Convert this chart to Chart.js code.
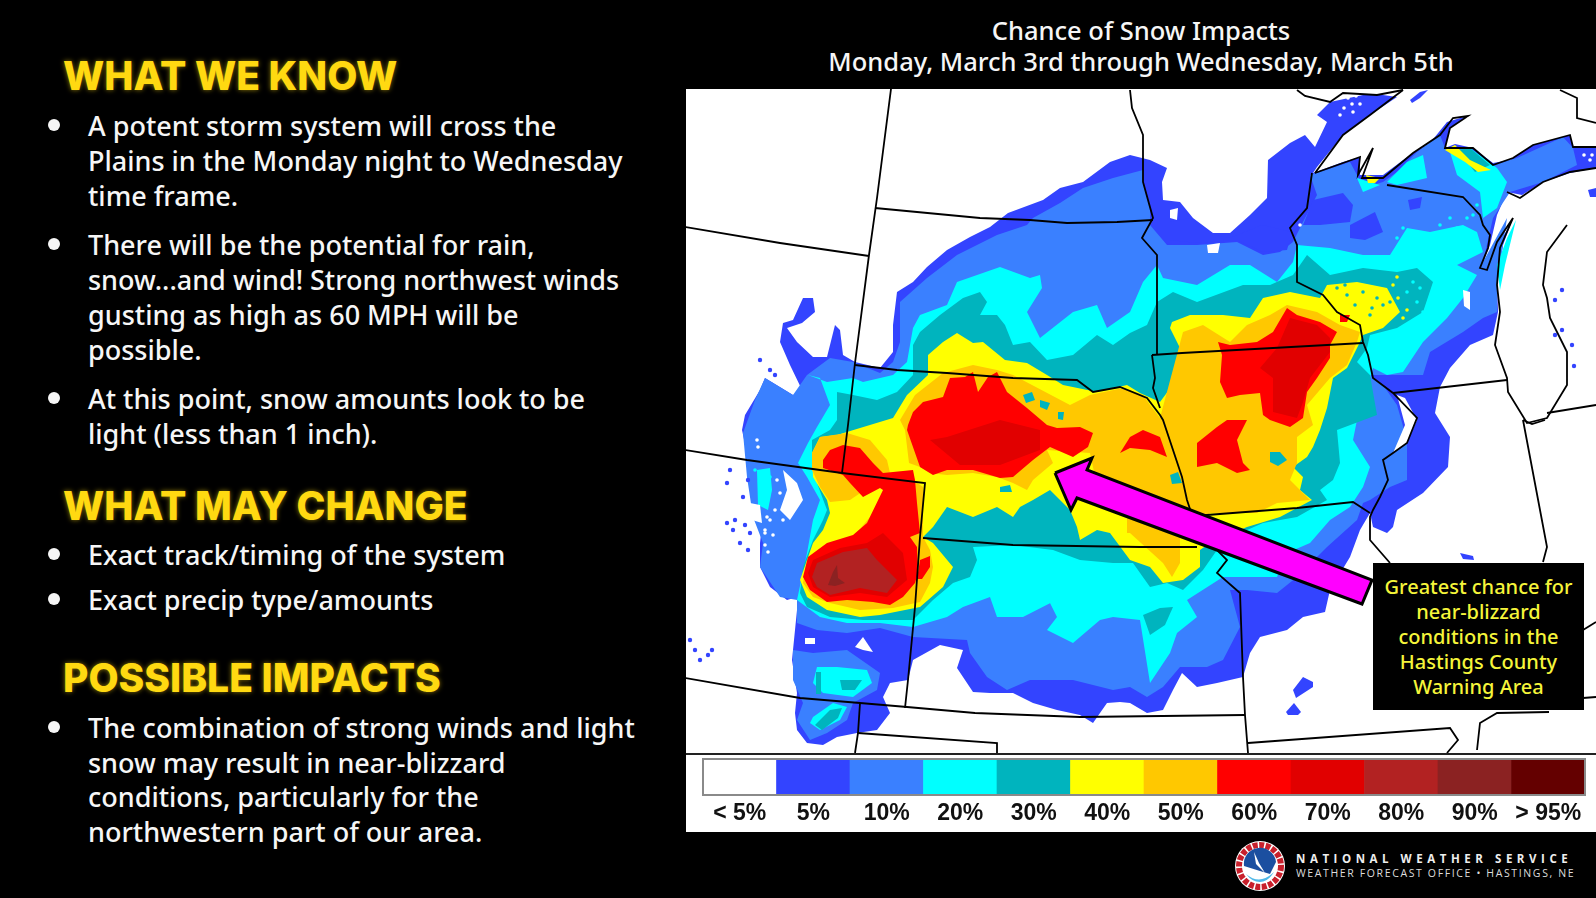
<!DOCTYPE html>
<html>
<head>
<meta charset="utf-8">
<title>Chance of Snow Impacts</title>
<script src="https://cdn.jsdelivr.net/npm/chart.js@4/dist/chart.umd.min.js"></script>
<style>
html, body { margin: 0; padding: 0; background: #000; width: 1596px; height: 898px; overflow: hidden; }
body { position: relative; font-family: "Noto Sans", Lato, sans-serif; color: #fff; }
.line { position: absolute; white-space: nowrap; font-size: 27px; line-height: 36px; color: #f6f6f6; font-weight: 500; }
.dot { position: absolute; left: 48px; width: 12px; height: 12px; border-radius: 50%; background: #f6f6f6; }
.head { position: absolute; white-space: nowrap; font-family: Inter, sans-serif; font-weight: 800; font-size: 39px; line-height: 44px; color: #ffd911; text-shadow: 0 0 5px rgba(255,217,17,.55); }
.title { position: absolute; left: 686px; width: 910px; text-align: center; font-size: 25.5px; line-height: 32px; font-weight: 500; color: #f6f6f6; white-space: nowrap; }
#panel { position: absolute; left: 686px; top: 89px; width: 910px; height: 743px; background: #fff; }
#map { position: absolute; left: 686px; top: 89px; filter: blur(0.5px); }
#scale { position: absolute; left: 702px; top: 758px; filter: blur(0.5px); }
#rule { position: absolute; left: 686px; top: 753px; width: 910px; height: 2px; background: #222; }
#callout { position: absolute; left: 1373px; top: 563px; width: 211px; height: 147px; background: #000; color: #f5f53a; text-align: center; font-size: 20px; line-height: 25px; font-weight: 500; padding-top: 11px; box-sizing: border-box; white-space: nowrap; }
#logo { position: absolute; left: 1234px; top: 840px; }
.nws1 { position: absolute; left: 1296px; top: 851px; font-family: "Open Sans", sans-serif; font-size: 11.5px; line-height: 16px; font-weight: 700; letter-spacing: 4.55px; color: #eee; white-space: nowrap; }
.nws2 { position: absolute; left: 1296px; top: 865px; font-family: "Open Sans", sans-serif; font-size: 10.5px; line-height: 16px; letter-spacing: 1.63px; color: #ddd; white-space: nowrap; }
</style>
</head>
<body>
<div class="title" style="top:14px">Chance of Snow Impacts</div>
<div class="title" style="top:45px">Monday, March 3rd through Wednesday, March 5th</div>
<div id="panel"></div>
<canvas id="map" width="910" height="665"></canvas>
<div id="rule"></div>
<canvas id="scale" width="884" height="74"></canvas>
<div id="callout">Greatest chance for<br>near-blizzard<br>conditions in the<br>Hastings County<br>Warning Area</div>
<svg id="logo" width="52" height="52" viewBox="0 0 52 52">
  <circle cx="26" cy="26" r="25" fill="#fff"/>
  <circle cx="26" cy="26" r="21" fill="none" stroke="#c8202c" stroke-width="6" stroke-dasharray="5 1.5"/>
  <circle cx="26" cy="26" r="17" fill="#fff"/>
  <path d="M10 26a16 16 0 0 1 32-4l-6 12-10-3z" fill="#1b4fa0"/>
  <path d="M20 12l5 11 6 10-9-9z" fill="#fff"/>
  <path d="M12 34q14 12 28-2q-6 10-14 10t-14-8z" fill="#4fb8e8"/>
</svg>
<div class="nws1">NATIONAL WEATHER SERVICE</div>
<div class="nws2">WEATHER FORECAST OFFICE • HASTINGS, NE</div>

<script>
// legend
const categories = ['< 5%', '5%', '10%', '20%', '30%', '40%', '50%', '60%', '70%', '80%', '90%', '> 95%'];
const cellValues = [1, 1, 1, 1, 1, 1, 1, 1, 1, 1, 1, 1];
const colors = ['#ffffff', '#3344ff', '#3a80ff', '#00ffff', '#00b4be', '#ffff00', '#ffc800', '#ff0000', '#e10000', '#b22222', '#8b2222', '#640000'];

// text on the left, one entry per line
const headings = [['WHAT WE KNOW', 54], ['WHAT MAY CHANGE', 484], ['POSSIBLE IMPACTS', 656]];
const bullets = [125, 244, 398, 554, 599, 727];
const bodyLines = [
    ['A potent storm system will cross the', 126],
    ['Plains in the Monday night to Wednesday', 161],
    ['time frame.', 196],
    ['There will be the potential for rain,', 245],
    ['snow...and wind! Strong northwest winds', 280],
    ['gusting as high as 60 MPH will be', 315],
    ['possible.', 350],
    ['At this point, snow amounts look to be', 399],
    ['light (less than 1 inch).', 434],
    ['Exact track/timing of the system', 555],
    ['Exact precip type/amounts', 600],
    ['The combination of strong winds and light', 728],
    ['snow may result in near-blizzard', 763],
    ['conditions, particularly for the', 797],
    ['northwestern part of our area.', 832]
];

// probability contours
const level5Main = [[897,292],[913,282],[927,267],[947,250],[970,237],[990,227],[1008,213],[1043,200],[1060,188],[1083,182],[1110,162],[1130,155],[1150,160],[1167,168],[1162,182],[1163,200],[1180,202],[1193,218],[1213,233],[1230,233],[1250,215],[1267,198],[1268,160],[1290,143],[1305,135],[1315,147],[1327,122],[1317,115],[1330,102],[1363,95],[1383,95],[1397,97],[1370,115],[1343,135],[1317,167],[1313,173],[1343,162],[1360,157],[1360,175],[1383,175],[1410,155],[1430,143],[1447,122],[1467,116],[1450,128],[1445,148],[1455,144],[1473,148],[1493,163],[1510,160],[1533,145],[1570,135],[1573,148],[1596,147],[1596,168],[1570,173],[1543,182],[1522,195],[1507,192],[1497,215],[1490,245],[1480,270],[1490,262],[1513,218],[1503,245],[1497,285],[1498,312],[1493,335],[1470,345],[1450,368],[1440,387],[1435,413],[1450,437],[1448,467],[1423,493],[1397,510],[1393,527],[1387,533],[1373,527],[1370,513],[1360,530],[1350,557],[1330,590],[1325,612],[1303,617],[1287,630],[1260,637],[1250,653],[1243,677],[1217,683],[1197,687],[1182,673],[1173,690],[1163,710],[1147,713],[1130,703],[1120,702],[1107,703],[1093,723],[1080,715],[1057,710],[1033,703],[1013,693],[990,693],[973,692],[957,668],[963,650],[940,645],[913,660],[908,680],[890,683],[883,697],[890,713],[877,730],[857,733],[837,737],[823,745],[807,743],[797,730],[795,713],[797,693],[792,660],[797,610],[797,597],[787,600],[770,587],[760,567],[760,543],[763,517],[753,500],[752,477],[747,453],[742,430],[745,415],[760,390],[765,378],[793,395],[803,392],[790,365],[780,342],[783,323],[793,320],[803,298],[813,298],[815,312],[802,323],[787,328],[797,342],[813,357],[827,357],[835,325],[840,330],[843,355],[855,362],[880,368],[893,352],[893,325]];
const level5Lake = [[1410,100],[1420,92],[1428,90],[1420,98],[1412,103]];
const level5IslandA = [[1460,553],[1473,556],[1474,560],[1463,559]];
const level5IslandB = [[1293,690],[1303,677],[1313,682],[1313,687],[1296,698]];
const level5IslandC = [[1286,712],[1294,703],[1301,712],[1298,715],[1288,715]];
const level5Thumb = [[1588,190],[1596,188],[1596,197],[1590,197]];

const level10Main = [[900,302],[927,278],[957,255],[997,235],[1027,225],[1033,218],[1060,203],[1083,188],[1113,178],[1143,170],[1143,182],[1150,205],[1150,225],[1167,245],[1197,245],[1237,242],[1263,255],[1280,252],[1293,242],[1303,222],[1317,195],[1310,175],[1350,162],[1357,175],[1363,188],[1383,182],[1397,172],[1417,152],[1440,135],[1445,148],[1463,147],[1493,165],[1517,158],[1563,137],[1573,148],[1577,165],[1543,182],[1510,192],[1493,218],[1483,262],[1507,218],[1497,285],[1497,312],[1483,318],[1463,332],[1430,352],[1423,375],[1397,375],[1370,375],[1383,385],[1397,405],[1407,440],[1407,470],[1407,480],[1390,487],[1370,500],[1363,503],[1357,520],[1327,547],[1297,577],[1277,593],[1247,590],[1230,590],[1240,627],[1223,660],[1207,667],[1180,667],[1163,687],[1147,697],[1130,687],[1113,690],[1073,680],[1030,680],[1007,690],[987,677],[970,653],[967,640],[913,637],[880,628],[847,633],[817,630],[797,623],[797,600],[780,597],[760,567],[763,543],[753,517],[747,477],[743,433],[755,400],[765,378],[793,395],[807,375],[830,358],[853,362],[880,373],[893,362],[900,342]];
const level10Lobe = [[793,650],[813,653],[847,650],[880,673],[877,690],[853,703],[847,720],[827,733],[810,740],[797,720],[803,703],[793,680]];
const level5Patches = [
    [[1313,200],[1343,193],[1353,205],[1350,222],[1320,225],[1303,225]],
    [[1350,225],[1375,212],[1383,232],[1365,240],[1350,238]],
    [[1408,200],[1422,197],[1420,208],[1410,210]],
    [[1170,222],[1190,218],[1215,235],[1230,238],[1262,225],[1292,232],[1287,250],[1263,252],[1237,240],[1197,243],[1170,240]]
];

const level20Main = [[913,328],[920,315],[947,305],[957,282],[1000,267],[1030,278],[1040,275],[1042,288],[1027,312],[1040,338],[1073,312],[1097,305],[1107,328],[1130,312],[1143,282],[1157,265],[1163,278],[1197,285],[1230,265],[1250,265],[1277,282],[1293,262],[1297,245],[1330,248],[1363,255],[1390,255],[1407,228],[1430,232],[1463,225],[1477,232],[1483,252],[1457,265],[1477,275],[1463,298],[1447,318],[1423,342],[1403,372],[1387,375],[1373,368],[1357,420],[1353,440],[1370,467],[1363,487],[1350,507],[1330,520],[1310,543],[1287,553],[1277,577],[1243,577],[1223,577],[1187,600],[1197,617],[1177,633],[1170,653],[1150,683],[1140,620],[1113,617],[1100,620],[1073,643],[1047,630],[1057,617],[1050,603],[1070,593],[1023,617],[997,617],[990,597],[963,607],[947,617],[913,627],[880,623],[847,623],[820,617],[797,600],[807,553],[813,520],[820,500],[807,477],[798,463],[808,443],[817,427],[830,405],[820,378],[808,375],[827,382],[853,378],[863,382],[893,375],[907,362],[910,345]];
const level20LobeA = [[817,667],[837,667],[867,670],[872,683],[853,697],[823,693],[813,683]];
const level20LobeB = [[813,717],[833,703],[847,707],[840,720],[820,730],[810,723]];
const level20Upper = [[1387,182],[1407,162],[1423,155],[1427,178],[1397,185]];
const level20Keweenaw = [[1450,152],[1470,148],[1497,168],[1507,182],[1497,208],[1483,218],[1480,192],[1457,175]];
const level20Ontonagon = [[1357,178],[1380,185],[1363,192]];
const level20Door = [[1497,265],[1507,238],[1516,220],[1505,265],[1500,290]];
const level20West = [[757,470],[770,468],[772,490],[768,510],[758,505]];

const level30Main = [[913,362],[913,345],[920,332],[940,315],[963,298],[980,292],[987,302],[980,315],[997,315],[1005,325],[1013,345],[1030,342],[1047,360],[1073,355],[1097,335],[1113,345],[1130,333],[1147,325],[1157,302],[1173,292],[1197,302],[1243,285],[1270,285],[1293,275],[1307,255],[1330,275],[1363,268],[1397,272],[1417,268],[1433,282],[1423,312],[1397,328],[1370,335],[1367,348],[1357,362],[1370,375],[1377,415],[1337,430],[1340,463],[1333,480],[1320,490],[1327,500],[1297,517],[1263,523],[1247,530],[1217,550],[1203,570],[1183,590],[1167,583],[1150,587],[1133,563],[1113,563],[1080,560],[1053,550],[1013,545],[973,547],[977,560],[970,577],[953,583],[933,600],[913,620],[863,620],[830,617],[807,607],[800,593],[803,567],[813,540],[823,520],[827,510],[817,483],[812,463],[812,440],[830,430],[837,420],[837,392],[853,395],[877,400],[897,392],[913,375]];
const level30LobeA = [[816,672],[821,672],[821,694],[816,694]];
const level30LobeB = [[840,680],[862,680],[855,690],[842,690]];
const level30LobeC = [[815,725],[830,710],[842,708],[838,718],[822,730]];
const level30Kansas = [[1143,615],[1160,608],[1173,607],[1165,625],[1150,635]];
const level30Keweenaw = [[1458,150],[1470,148],[1490,165],[1475,172]];

const level40Main = [[928,355],[943,342],[957,333],[973,343],[983,342],[1005,360],[1027,363],[1047,375],[1063,385],[1097,392],[1127,385],[1140,393],[1160,402],[1180,375],[1180,348],[1170,328],[1172,322],[1190,315],[1223,315],[1250,318],[1263,298],[1290,292],[1320,298],[1327,285],[1357,282],[1387,288],[1400,312],[1383,328],[1363,335],[1360,342],[1347,368],[1333,378],[1327,408],[1320,430],[1313,447],[1307,457],[1293,467],[1303,477],[1300,490],[1312,500],[1280,517],[1247,527],[1210,543],[1200,550],[1200,567],[1183,580],[1163,583],[1150,567],[1130,560],[1110,533],[1097,530],[1080,540],[1077,527],[1070,510],[1050,490],[1033,500],[1020,507],[1013,517],[997,507],[973,517],[947,507],[933,527],[923,537],[933,543],[953,567],[943,587],[920,607],[880,615],[860,617],[827,610],[807,597],[800,580],[813,543],[823,530],[830,513],[827,500],[813,477],[812,453],[820,437],[837,435],[893,418],[907,395],[928,375]];
const level40Yellow = [[1445,150],[1455,145],[1470,160],[1491,170],[1478,172],[1465,162]];
const level40Ontonagon = [[1366,175],[1380,178],[1375,183],[1368,183]];

const level50Main = [[943,373],[973,365],[997,370],[1013,375],[1070,405],[1090,395],[1123,388],[1143,395],[1150,405],[1160,418],[1183,332],[1203,325],[1230,342],[1247,325],[1270,315],[1287,305],[1317,312],[1340,325],[1360,332],[1357,342],[1347,365],[1330,378],[1307,405],[1313,425],[1297,437],[1297,463],[1290,480],[1310,500],[1277,503],[1257,513],[1210,513],[1180,537],[1180,563],[1172,577],[1163,563],[1130,533],[1127,533],[1127,517],[1100,500],[1090,453],[1047,450],[1053,463],[1033,480],[1027,490],[1013,483],[997,477],[973,473],[947,475],[930,473],[920,467],[909,463],[905,430],[900,420],[915,395]];
const level50South = [[923,537],[930,550],[933,567],[930,583],[920,602],[893,608],[860,610],[830,603],[813,597],[803,583],[807,560],[830,543],[853,537],[870,517],[885,490],[893,483],[913,480],[923,487]];
const level50North = [[812,453],[820,437],[847,433],[870,440],[887,460],[890,473],[850,500],[830,502],[820,487],[812,470]];

const level60Nebraska = [[908,425],[913,412],[923,402],[943,397],[950,378],[965,377],[973,372],[978,392],[988,377],[997,372],[1007,392],[1027,408],[1047,425],[1057,428],[1080,427],[1093,433],[1088,447],[1073,457],[1050,447],[1033,460],[1013,477],[1000,478],[973,470],[947,470],[933,475],[920,467],[907,430]];
const level60Colorado = [[823,460],[830,450],[843,445],[860,448],[873,463],[883,473],[913,470],[915,480],[917,503],[920,533],[910,537],[917,547],[918,573],[915,583],[903,597],[890,605],[873,602],[847,600],[827,602],[810,590],[803,577],[808,557],[827,543],[853,535],[867,523],[883,490],[880,488],[863,497],[850,483],[843,475],[823,468]];
const level60Kansas = [[920,560],[930,556],[930,567],[922,579],[917,579]];
const level60Iowa = [[1218,342],[1230,345],[1257,342],[1273,332],[1287,308],[1297,315],[1320,322],[1337,332],[1330,345],[1330,358],[1317,378],[1307,392],[1303,418],[1290,427],[1270,420],[1263,415],[1260,393],[1240,395],[1227,398],[1220,382],[1222,355]];
const level60Missouri = [[1197,443],[1217,427],[1227,420],[1247,420],[1237,440],[1243,463],[1250,470],[1237,473],[1217,463],[1197,467]];
const level60Border = [[1120,453],[1130,437],[1143,430],[1160,437],[1167,457],[1150,450],[1130,448]];
const level60Spot = [[1340,315],[1350,315],[1347,322],[1340,322]];

const level70Nebraska = [[947,437],[1000,420],[1040,430],[1040,450],[1000,465],[960,465],[930,440]];
const level70Colorado = [[808,573],[813,560],[840,548],[867,543],[883,533],[903,553],[907,580],[887,597],[860,593],[830,597],[813,587]];
const level70Iowa = [[1290,318],[1317,325],[1330,338],[1330,352],[1310,378],[1303,402],[1297,418],[1273,412],[1273,378],[1260,368],[1277,348]];

const level80Colorado = [[812,577],[817,563],[843,552],[867,548],[877,560],[897,580],[887,593],[860,588],[830,595],[817,587]];
const level90Colorado = [[828,585],[833,572],[837,565],[838,578],[845,583],[835,586]];

// islands of a lower class inside a higher one
const teal30Spots = [
    [[1023,395],[1032,392],[1035,400],[1026,403]],
    [[1040,400],[1050,403],[1047,410],[1040,407]],
    [[1058,412],[1064,412],[1063,420],[1058,419]],
    [[1270,452],[1280,452],[1287,460],[1278,466],[1270,462]],
    [[1170,475],[1178,472],[1182,483],[1172,484]],
    [[1000,487],[1010,485],[1012,492],[1000,492]]
];
const white5Holes = [
    [[805,638],[815,638],[815,644],[805,644]],
    [[855,647],[863,637],[873,652],[863,650]],
    [[783,470],[797,483],[803,500],[790,520],[780,510],[787,490]],
    [[750,503],[760,505],[762,523],[752,520]],
    [[1463,290],[1470,292],[1470,310],[1464,306]],
    [[1207,245],[1220,243],[1218,253],[1208,253]],
    [[1170,210],[1178,208],[1177,220],[1170,218]],
    [[1397,395],[1405,398],[1417,420],[1407,443],[1393,453],[1405,425]]
];
const whiteSpeckles = [[1348,98],[1352,104],[1344,108],[1353,112],[1340,115],[1356,96],[1360,104],[1340,90],[1545,395],[1532,395],[1300,225],[1590,160],[1584,155],[1592,155],[765,530],[770,520],[773,535],[765,545],[775,510],[757,440],[758,447],[777,480],[780,493],[783,520],[767,517],[768,552],[765,533],[770,372],[776,374],[782,372],[790,376]];
const blueSpeckles = [[730,470],[727,483],[748,480],[743,497],[727,523],[733,530],[740,543],[750,533],[748,550],[735,520],[745,525],[690,640],[695,650],[700,660],[708,655],[712,650],[760,360],[770,370],[775,375],[1562,290],[1555,300],[1562,330],[1555,335],[1572,345],[1574,366]];
const cyanSpeckles = [[1403,228],[1413,232],[1430,235],[1443,238],[1457,228],[1467,218],[1473,215],[1440,225],[1397,238],[1420,242],[1450,218],[1477,205],[1417,302],[1423,312],[1407,292],[1413,282],[1420,288],[755,470],[760,483],[767,493],[763,503],[770,477]];
const tealSpeckles = [[1337,288],[1347,295],[1363,292],[1377,298],[1383,305],[1390,302],[1370,315],[1355,305],[1345,285],[1372,308]];
const yellowSpeckles = [[1397,277],[1393,285],[1403,318],[1398,298],[1407,310]];

// state lines and shores
const borderLines = [
    [[891,89],[877,198],[869,255],[855,363],[848,425],[842,473]],
    [[875,208],[917,212],[980,218],[1030,220],[1067,223],[1117,222],[1153,220]],
    [[1130,90],[1132,108],[1143,135],[1143,182],[1153,218],[1142,238],[1157,255],[1157,355]],
    [[685,227],[780,243],[869,256]],
    [[855,365],[897,370],[947,373],[1013,378],[1077,380],[1093,392],[1120,387],[1147,398],[1160,415],[1163,420],[1182,477],[1187,500],[1197,530],[1227,560],[1217,573],[1240,593],[1243,677],[1245,715],[1248,753]],
    [[1152,355],[1182,353],[1273,348],[1363,343]],
    [[1152,355],[1155,378],[1153,388],[1160,408]],
    [[1312,173],[1307,208],[1290,228],[1297,245],[1297,282],[1323,295],[1337,312],[1360,325],[1363,342],[1368,355],[1373,378],[1393,393],[1417,418],[1407,443],[1393,453],[1383,460],[1388,480],[1380,497],[1373,510],[1370,517],[1370,540],[1390,563]],
    [[1187,517],[1207,515],[1297,508],[1353,502],[1370,513]],
    [[923,538],[1013,545],[1140,547],[1197,547]],
    [[685,450],[747,460],[842,473],[925,483],[920,537],[915,607],[908,680],[905,708]],
    [[685,678],[800,698],[860,703],[907,707],[975,713],[1080,717],[1245,715]],
    [[860,703],[858,733],[855,753]],
    [[858,733],[997,743],[997,753]],
    [[1393,393],[1507,380]],
    [[1387,185],[1463,197],[1480,215],[1483,225],[1490,235],[1488,248],[1480,268],[1487,270],[1497,242],[1513,218],[1500,248],[1497,285],[1500,312],[1495,345],[1507,378],[1508,392],[1527,423],[1547,418],[1567,385],[1567,352],[1550,318],[1547,298],[1543,285],[1547,252],[1567,225]],
    [[1507,192],[1520,198],[1543,182],[1570,172],[1596,168]],
    [[1315,173],[1343,163],[1360,157],[1358,175],[1373,148],[1362,178],[1383,178],[1413,153],[1440,135],[1453,118],[1468,116],[1450,128],[1445,148],[1473,148],[1493,165],[1513,158],[1533,145],[1570,135],[1573,147],[1596,147]],
    [[1315,173],[1343,135],[1370,115],[1403,90]],
    [[1297,90],[1305,96],[1330,102],[1343,93],[1377,95],[1403,90]],
    [[1560,90],[1577,98],[1577,118],[1596,123]],
    [[1523,420],[1547,547],[1543,562]],
    [[1549,712],[1497,713],[1480,723],[1477,750]],
    [[1248,743],[1450,728],[1458,740],[1447,753]],
    [[1583,630],[1596,622]],
    [[1583,698],[1596,697]],
    [[1547,413],[1596,405]],
    [[1523,420],[1532,424],[1545,420]]
];

// pointer from the callout to the Nebraska maximum
const arrowShape = [[1055,473],[1092,458],[1087,470],[1372,580],[1362,604],[1077,498],[1071,510]];

// painted back to front
const layers = [
    [level5Main, 1], [level5Lake, 1], [level5IslandA, 1], [level5IslandB, 1], [level5IslandC, 1], [level5Thumb, 1],
    [level10Main, 2], [level10Lobe, 2],
    ...level5Patches.map(p => [p, 1]),
    [level20Main, 3], [level20LobeA, 3], [level20LobeB, 3], [level20Upper, 3], [level20Keweenaw, 3], [level20Ontonagon, 3], [level20Door, 3], [level20West, 3],
    [level30Main, 4], [level30LobeA, 4], [level30LobeB, 4], [level30LobeC, 4], [level30Kansas, 4], [level30Keweenaw, 4],
    [level40Main, 5], [level40Yellow, 5], [level40Ontonagon, 5],
    [level50Main, 6], [level50South, 6], [level50North, 6],
    [level60Nebraska, 7], [level60Colorado, 7], [level60Kansas, 7], [level60Iowa, 7], [level60Missouri, 7], [level60Border, 7], [level60Spot, 7],
    [level70Nebraska, 8], [level70Colorado, 8], [level70Iowa, 8],
    [level80Colorado, 9], [level90Colorado, 10],
    ...teal30Spots.map(p => [p, 4]),
    ...white5Holes.map(p => [p, 0])
];

function toPoints(pairs) {
    return pairs.map(p => ({ x: p[0], y: p[1] }));
}

const mapDatasets = [];
layers.forEach(l => {
    mapDatasets.push({
        data: toPoints(l[0]),
        showLine: true,
        fill: 'shape',
        backgroundColor: colors[l[1]],
        borderWidth: 0,
        pointRadius: 0,
        tension: 0
    });
});
[[whiteSpeckles, '#fff', 1.8], [blueSpeckles, colors[1], 2.2], [cyanSpeckles, colors[3], 1.8], [tealSpeckles, colors[4], 1.8], [yellowSpeckles, colors[5], 1.8]].forEach(s => {
    mapDatasets.push({ data: toPoints(s[0]), pointRadius: s[2], pointBackgroundColor: s[1], pointBorderWidth: 0 });
});
borderLines.forEach(b => {
    mapDatasets.push({ data: toPoints(b), showLine: true, borderColor: '#000', borderWidth: 1.8, pointRadius: 0, fill: false, tension: 0 });
});
mapDatasets.push({
    data: toPoints(arrowShape.concat([arrowShape[0]])),
    showLine: true,
    fill: 'shape',
    backgroundColor: '#ff00ff',
    borderColor: '#000',
    borderWidth: 3,
    pointRadius: 0,
    tension: 0,
    borderJoinStyle: 'miter'
});
// later entries go on top
mapDatasets.forEach((d, i) => { d.order = -i; });

new Chart(document.getElementById('map'), {
    type: 'scatter',
    data: { datasets: mapDatasets },
    options: {
        responsive: false,
        animation: false,
        layout: { padding: 0, autoPadding: false },
        plugins: { legend: { display: false }, tooltip: { enabled: false } },
        events: [],
        scales: {
            x: { type: 'linear', min: 686, max: 1596, display: false },
            y: { type: 'linear', min: 89, max: 754, reverse: true, display: false }
        }
    }
});

const scaleOutline = {
    id: 'scaleOutline',
    afterDatasetsDraw(chart) {
        const a = chart.chartArea;
        chart.ctx.save();
        chart.ctx.strokeStyle = '#8a8a8a';
        chart.ctx.lineWidth = 2;
        chart.ctx.strokeRect(a.left, a.top, a.right - a.left, a.bottom - a.top);
        chart.ctx.restore();
    }
};

new Chart(document.getElementById('scale'), {
    type: 'bar',
    data: {
        labels: categories,
        datasets: [{ data: cellValues, backgroundColor: colors, barPercentage: 1, categoryPercentage: 1 }]
    },
    options: {
        responsive: false,
        animation: false,
        layout: { padding: { left: 1, right: 1, top: 1, bottom: 0 }, autoPadding: false },
        plugins: { legend: { display: false }, tooltip: { enabled: false } },
        events: [],
        scales: {
            y: { display: false, min: 0, max: 1 },
            x: {
                grid: { display: false },
                border: { display: false },
                afterFit(axis) { axis.height = 37; },
                ticks: { color: '#111', autoSkip: false, maxRotation: 0, padding: -3, font: { family: 'Liberation Sans', weight: 'bold', size: 23 } }
            }
        }
    },
    plugins: [scaleOutline]
});

function addText(cls, text, left, top) {
    const el = document.createElement('div');
    el.className = cls;
    el.textContent = text;
    el.style.left = left + 'px';
    el.style.top = top + 'px';
    document.body.appendChild(el);
    return el;
}
headings.forEach(h => addText('head', h[0], 63, h[1]));
bullets.forEach(y => addText('dot', '', 48, y - 6));
bodyLines.forEach(l => addText('line', l[0], 88, l[1] - 18));
</script>
</body>
</html>
